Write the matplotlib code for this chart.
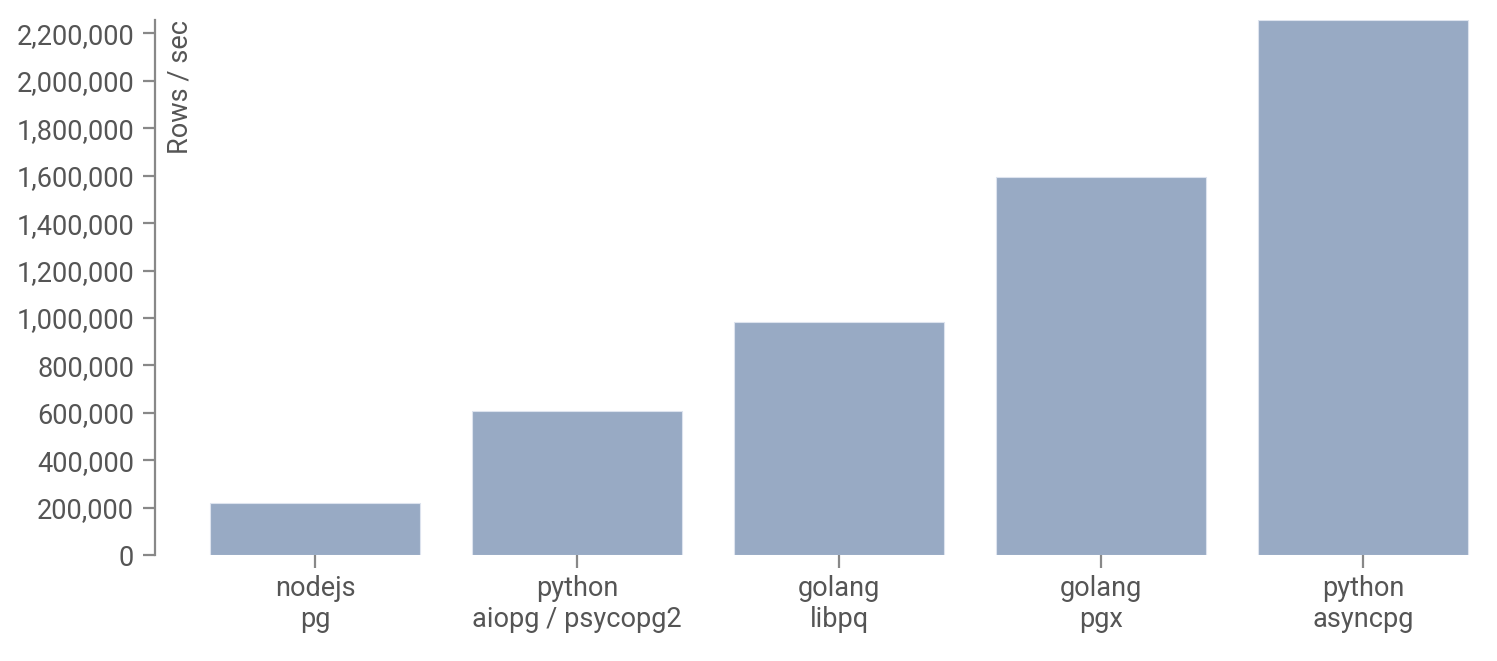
import matplotlib
matplotlib.use("Agg")
import matplotlib.pyplot as plt
from matplotlib.ticker import FuncFormatter, MultipleLocator

categories = ["nodejs\npg", "python\naiopg / psycopg2", "golang\nlibpq", "golang\npgx", "python\nasyncpg"]
rows_per_sec = [219000, 607000, 982000, 1593000, 2258000]
y_label = "Rows / sec"

plt.rcParams['font.family'] = ['Roboto', 'DejaVu Sans']
W, H = 1497, 661
fig = plt.figure(figsize=(W / 100, H / 100), dpi=100)
ax_left, ax_right = 155, 1480
ax_bottom_px, ax_top_px = 555.3, 19.5
ax = fig.add_axes([ax_left / W, (H - ax_bottom_px) / H, (ax_right - ax_left) / W, (ax_bottom_px - ax_top_px) / H])

bar_color = "#98aac4"
gray = "#888888"
text_gray = "#555555"
fs = 19.5

x = list(range(len(categories)))
ax.bar(x, rows_per_sec, width=0.8, color=bar_color, edgecolor="#dde3ee", linewidth=0.8)

step = 262.0
ax.set_xlim(-(315 - ax_left) / step, (ax_right - 315) / step)
ax.set_ylim(0, max(rows_per_sec))

ax.yaxis.set_major_locator(MultipleLocator(200000))
ax.yaxis.set_major_formatter(FuncFormatter(lambda v, p: f"{int(v):,}"))
ax.set_xticks(x)
ax.set_xticklabels(categories, linespacing=1.2)

for s in ["top", "right", "bottom"]:
    ax.spines[s].set_visible(False)
ax.spines["left"].set_color(gray)
ax.spines["left"].set_linewidth(1.6)

ax.tick_params(axis="y", length=9, width=1.6, color=gray, labelcolor=text_gray, labelsize=fs, pad=6)
ax.tick_params(axis="x", length=9, width=1.6, color=gray, labelcolor=text_gray, labelsize=fs, pad=5)

ax.text(180 / W, (H - 20) / H, y_label, transform=fig.transFigure, rotation=90,
        ha="center", va="top", color=text_gray, fontsize=fs)

fig.savefig("out.png", dpi=100)
